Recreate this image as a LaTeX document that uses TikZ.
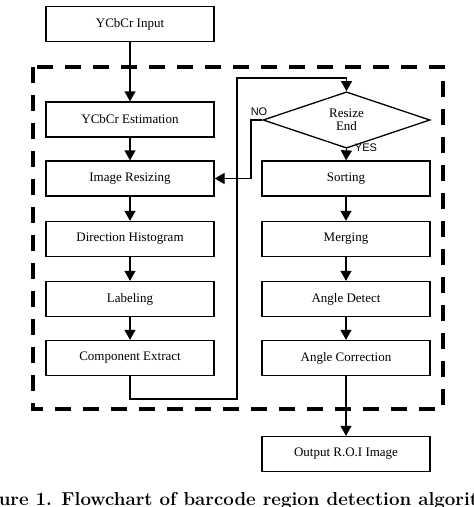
\documentclass[tikz,border=0pt]{standalone}
\usepackage{fontspec}
\newfontfamily\boxfont{Liberation Serif}
\newfontfamily\labfont{Liberation Sans}
\usetikzlibrary{arrows.meta,shapes.geometric}
\tikzset{
  stepbox/.style={draw, line width=1.3pt, minimum width=168pt, minimum height=35pt, inner sep=0pt, font=\boxfont\fontsize{13}{14}\selectfont},
  decision/.style={draw, diamond, line width=1.3pt, minimum width=167pt, minimum height=35pt, inner sep=0pt, align=center, font=\boxfont\fontsize{13}{14}\selectfont},
  arr/.style={line width=1.3pt, -{Triangle[width=11pt,length=10pt]}},
  frame/.style={line width=3.3pt, dash pattern=on 16pt off 12pt},
  lab/.style={font=\labfont\fontsize{11}{13}\selectfont, inner sep=0pt},
}
\begin{document}
\begin{tikzpicture}[x=1pt,y=-1pt]
\useasboundingbox (0,0) rectangle (474,507);
% dashed frame
\draw[frame] (33,67) rectangle (443,409);
% left column
\node[stepbox] (input) at (130,24) {YCbCr Input};
\node[stepbox] (est) at (130,119.5) {YCbCr Estimation};
\node[stepbox] (resize) at (130,178.5) {Image Resizing};
\node[stepbox] (hist) at (130,239) {Direction Histogram};
\node[stepbox] (label) at (130,299) {Labeling};
\node[stepbox] (comp) at (130,358) {Component Extract};
% right column
\node[decision] (dia) at (346.5,120) {Resize\\[-1pt]End};
\node[stepbox] (sort) at (346,178.5) {Sorting};
\node[stepbox] (merge) at (346,239) {Merging};
\node[stepbox] (adet) at (346,299) {Angle Detect};
\node[stepbox] (acor) at (346,358) {Angle Correction};
\node[stepbox] (out) at (346,454) {Output R.O.I Image};
% labels
\node[lab] (no) at (259,112) {NO};
\node[lab] (yes) at (366,148) {YES};
% connectors
\draw[arr] (input) -- (est);
\draw[arr] (est) -- (resize);
\draw[arr] (resize) -- (hist);
\draw[arr] (hist) -- (label);
\draw[arr] (label) -- (comp);
\coordinate (lb) at (237,399);
\coordinate (lt) at (237,78);
\draw[arr] (comp.south) |- (lb) |- (lt) -| (dia.north);
\coordinate (nb) at (251,120);
\draw[arr] (dia.west) -- (nb) |- (resize.east);
\draw[arr] (dia.south) -- (sort.north);
\draw[arr] (sort) -- (merge);
\draw[arr] (merge) -- (adet);
\draw[arr] (adet) -- (acor);
\draw[arr] (acor) -- (out);
% caption
\node[anchor=base west, inner sep=0pt, font=\fontsize{18.7}{22}\selectfont\bfseries] (cap) at (-31,505) {Figure 1. Flowchart of barcode region detection algorithm};
\end{tikzpicture}
\end{document}
